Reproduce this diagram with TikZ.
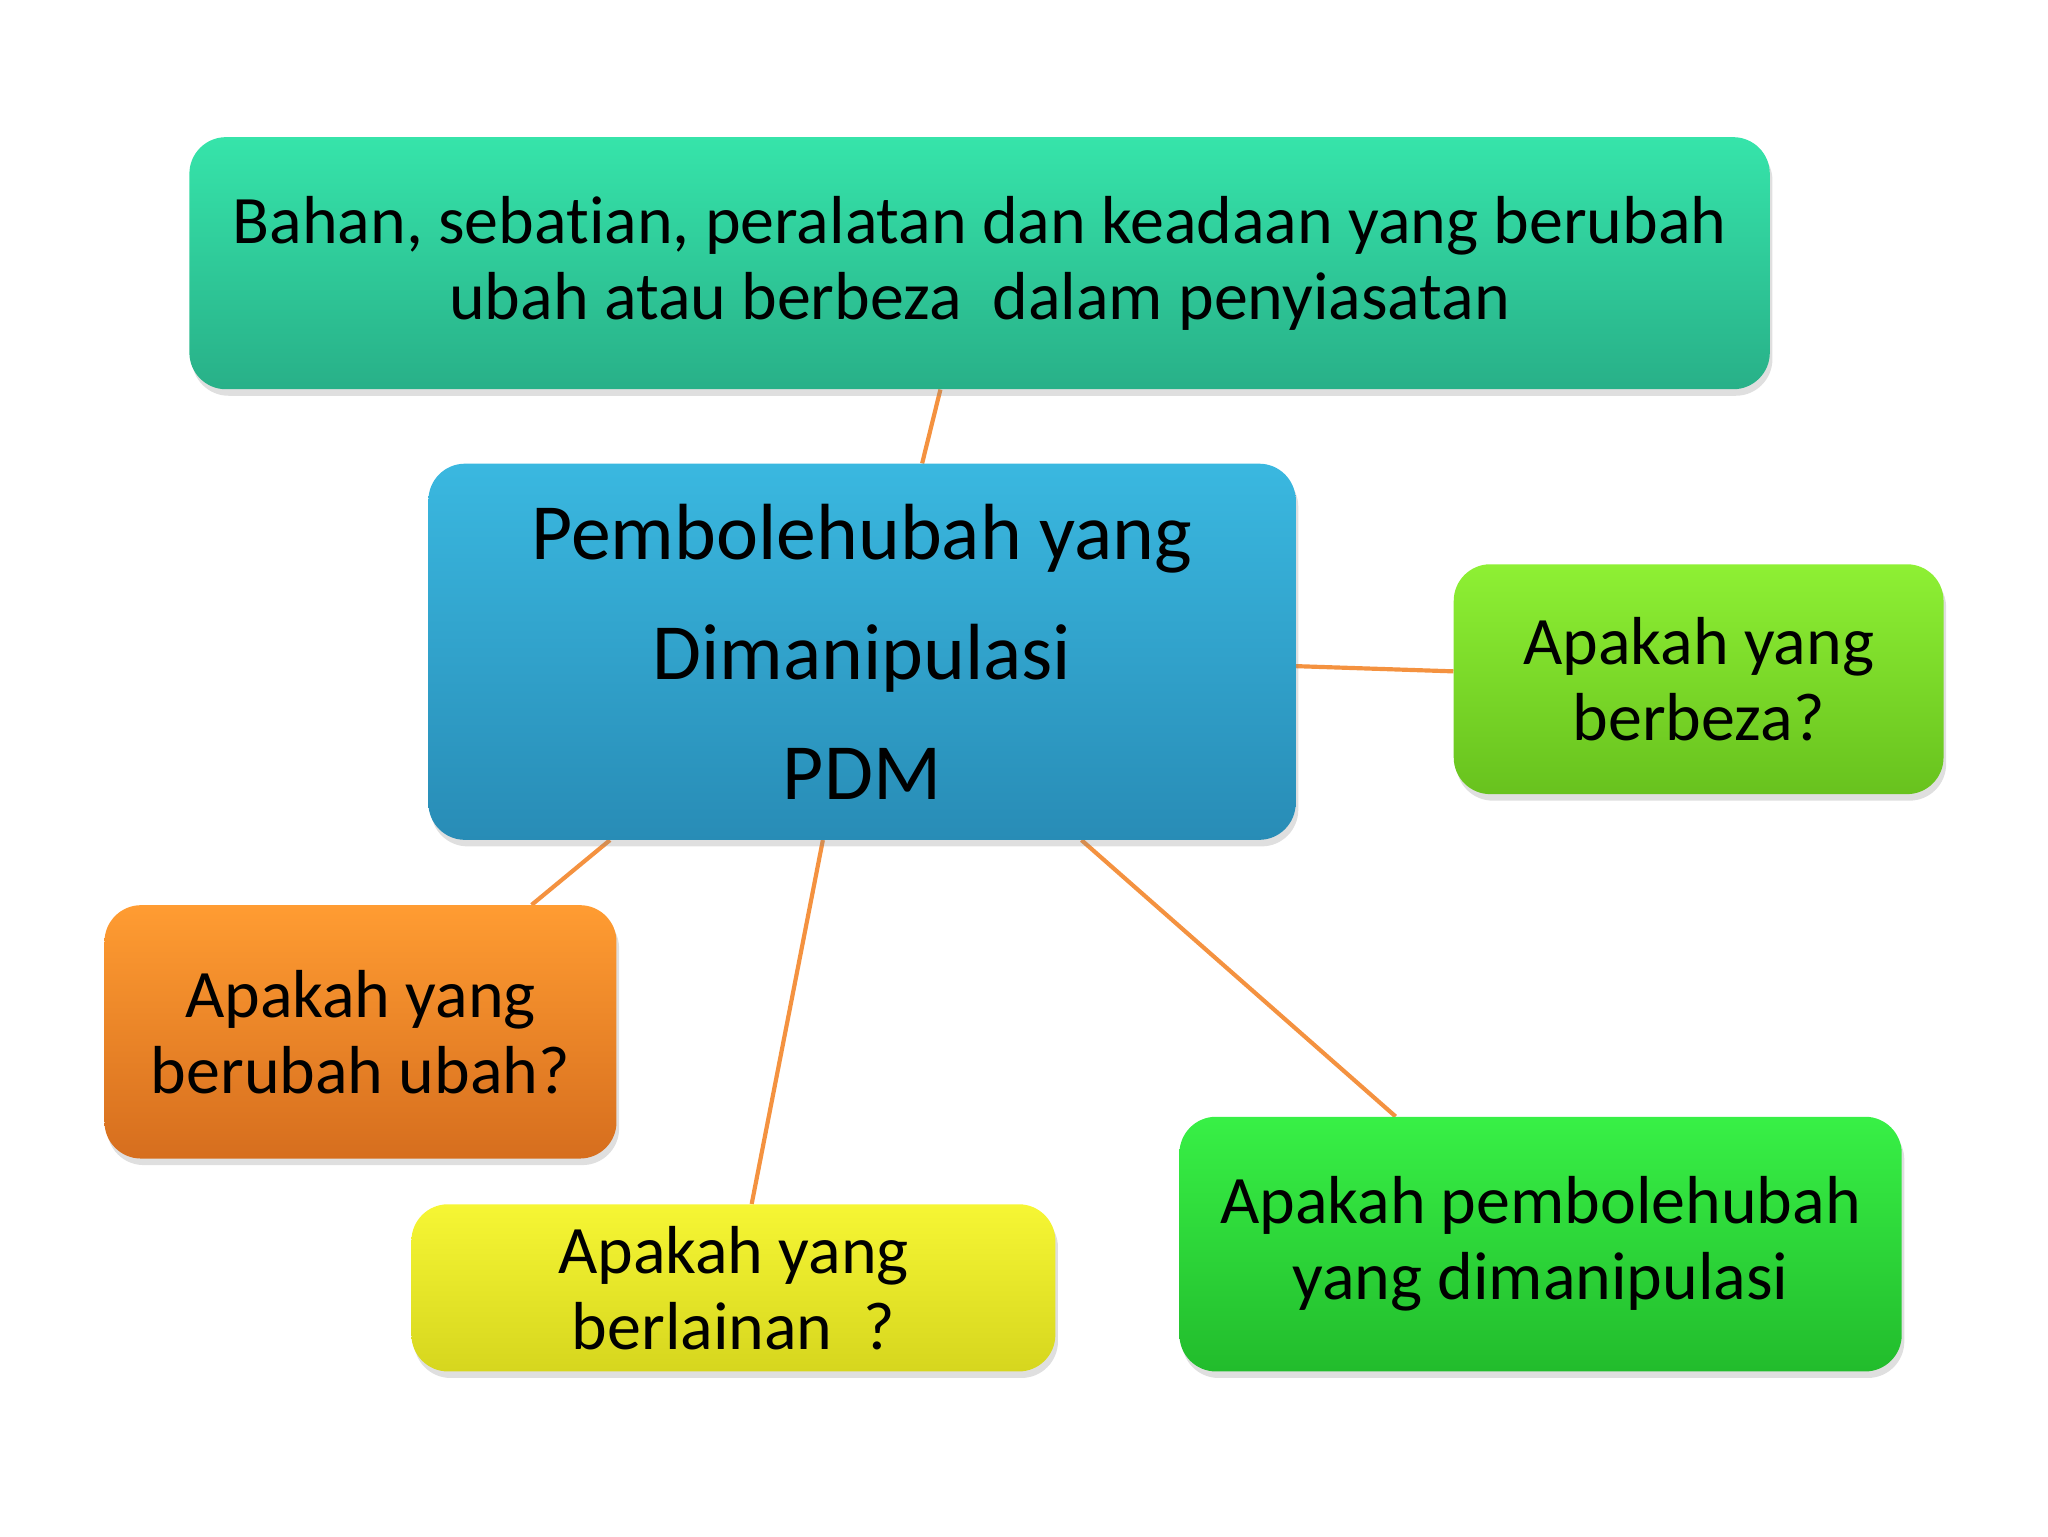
\documentclass[tikz,border=0pt]{standalone}
\usepackage{fontspec}
\setmainfont[Ligatures={NoCommon}]{Carlito}
\usetikzlibrary{shadings,shadows,backgrounds,calc}
\definecolor{tealT}{RGB}{54,228,170}
\definecolor{tealB}{RGB}{40,176,136}
\definecolor{blueT}{RGB}{58,184,224}
\definecolor{blueB}{RGB}{40,140,182}
\definecolor{limeT}{RGB}{142,240,52}
\definecolor{limeB}{RGB}{104,194,30}
\definecolor{oranT}{RGB}{255,156,50}
\definecolor{oranB}{RGB}{214,110,30}
\definecolor{yelT}{RGB}{246,246,52}
\definecolor{yelB}{RGB}{214,214,30}
\definecolor{grnT}{RGB}{56,240,70}
\definecolor{grnB}{RGB}{34,188,44}
\definecolor{linkc}{RGB}{244,146,64}
\tikzset{
  x=1pt, y=-1pt,
  boxnode/.style={rounded corners=28pt, inner sep=0pt, align=center, text=black,
    font={\fontsize{52}{58}\selectfont},
    drop shadow={opacity=0.25, shadow xshift=2pt, shadow yshift=-5pt}},
  link/.style={draw=linkc, line width=3.2pt}
}
\begin{document}
\begin{tikzpicture}
\useasboundingbox (0,0) rectangle (1568,1176);
\node[boxnode, top color=tealT, bottom color=tealB, minimum width=1210pt, minimum height=193pt]
  (top) at (750,201.5) {Bahan, sebatian, peralatan dan keadaan yang berubah\\ubah atau berbeza\ \ dalam penyiasatan};
\node[boxnode, top color=blueT, bottom color=blueB, minimum width=664pt, minimum height=288pt,
  font={\fontsize{61}{92}\selectfont}]
  (ctr) at (660,499) {Pembolehubah yang\\Dimanipulasi\\PDM};
\node[boxnode, top color=limeT, bottom color=limeB, minimum width=375pt, minimum height=176pt]
  (right) at (1300.5,520) {Apakah yang\\berbeza?};
\node[boxnode, top color=oranT, bottom color=oranB, minimum width=392pt, minimum height=194pt]
  (oran) at (276,790) {Apakah yang\\berubah ubah?};
\node[boxnode, top color=yelT, bottom color=yelB, minimum width=493pt, minimum height=128pt]
  (yel) at (561.5,986) {Apakah yang\\berlainan\ \ ?};
\node[boxnode, top color=grnT, bottom color=grnB, minimum width=553pt, minimum height=195pt]
  (grn) at (1179.5,952.5) {Apakah pembolehubah\\yang dimanipulasi};
\begin{scope}[on background layer]
\draw[link] ([xshift=-30pt]top.south) -- ([xshift=46pt]ctr.north);
\draw[link] ([yshift=-11pt]ctr.east) -- ([yshift=6pt]right.west);
\draw[link] ([xshift=-193pt]ctr.south) -- ([xshift=131pt]oran.north);
\draw[link] ([xshift=-30pt]ctr.south) -- ([xshift=14pt]yel.north);
\draw[link] ([xshift=168pt]ctr.south) -- ([xshift=-111pt]grn.north);
\end{scope}
\end{tikzpicture}
\end{document}
